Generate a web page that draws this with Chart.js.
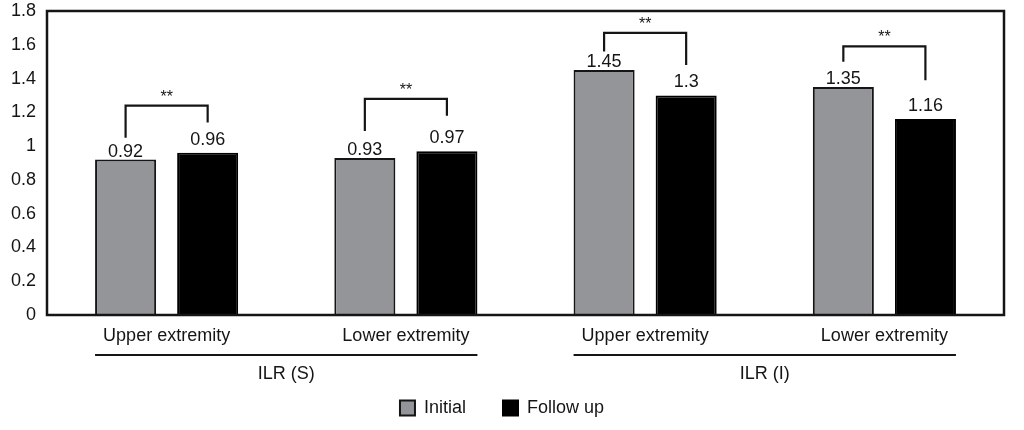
<!DOCTYPE html>
<html>
<head>
<meta charset="utf-8">
<title>ILR initial vs follow up</title>
<script src="https://cdn.jsdelivr.net/npm/chart.js@4.4.1/dist/chart.umd.min.js"></script>
<style>
  html, body { margin: 0; padding: 0; background: #fff; }
  #wrap { width: 1024px; height: 430px; }
</style>
</head>
<body>
<div id="wrap"><canvas id="chart" width="1024" height="430"></canvas></div>
<script>
// ====== DATA ======
const categories   = ['Upper extremity', 'Lower extremity', 'Upper extremity', 'Lower extremity'];
const initialVals  = [0.92, 0.93, 1.45, 1.35];
const followUpVals = [0.96, 0.97, 1.30, 1.16];
const yTicks       = [0, 0.2, 0.4, 0.6, 0.8, 1, 1.2, 1.4, 1.6, 1.8];

// group headings under the category labels (index ranges into categories)
const groupLabels = ['ILR (S)', 'ILR (I)'];
const groupFirst  = [0, 2];
const groupLast   = [1, 3];

// significance brackets, in axis units
const bracketLeftEnd  = [1.05, 1.09, 1.56, 1.50];
const bracketTop      = [1.24, 1.28, 1.67, 1.59];
const bracketRightEnd = [1.14, 1.18, 1.48, 1.39];
const bracketMark     = ['**', '**', '**', '**'];

// ====== STYLE ======
const FONT = '"Liberation Sans", Arial, Helvetica, sans-serif';
const INK  = '#151515';
const GREY = '#939598';

// ====== PLUGIN: frame, value labels, brackets, group headings ======
const extrasPlugin = {
  id: 'extras',
  afterDatasetsDraw(chart) {
    const { ctx, chartArea: a, scales: { y } } = chart;
    const m0 = chart.getDatasetMeta(0).data;
    const m1 = chart.getDatasetMeta(1).data;

    ctx.save();
    // frame around plot
    ctx.strokeStyle = INK;
    ctx.lineWidth = 2.5;
    ctx.strokeRect(a.left, a.top, a.right - a.left, a.bottom - a.top);

    // value labels
    ctx.fillStyle = INK;
    ctx.font = '18px ' + FONT;
    ctx.textAlign = 'center';
    ctx.textBaseline = 'alphabetic';
    m0.forEach((bar, i) => ctx.fillText(String(initialVals[i]), bar.x, bar.y - 3));
    m1.forEach((bar, i) => ctx.fillText(String(followUpVals[i]), bar.x, bar.y - 8));

    // brackets
    ctx.lineWidth = 2.2;
    for (let i = 0; i < categories.length; i++) {
      const xl = m0[i].x, xr = m1[i].x;
      const yt = y.getPixelForValue(bracketTop[i]);
      ctx.beginPath();
      ctx.moveTo(xl, y.getPixelForValue(bracketLeftEnd[i]));
      ctx.lineTo(xl, yt);
      ctx.lineTo(xr, yt);
      ctx.lineTo(xr, y.getPixelForValue(bracketRightEnd[i]));
      ctx.stroke();
      ctx.font = '16px ' + FONT;
      ctx.fillText(bracketMark[i], (xl + xr) / 2, yt - 4);
    }

    // group headings
    ctx.font = '18px ' + FONT;
    ctx.textBaseline = 'middle';
    groupLabels.forEach((lab, g) => {
      const first = m0[groupFirst[g]], last = m1[groupLast[g]];
      const x1 = first.x - first.width / 2;
      const x2 = last.x + last.width / 2;
      const ly = a.bottom + 40;
      ctx.beginPath();
      ctx.moveTo(x1, ly);
      ctx.lineTo(x2, ly);
      ctx.stroke();
      ctx.fillText(lab, (x1 + x2) / 2, a.bottom + 59);
    });
    ctx.restore();
  }
};

// ====== CHART ======
new Chart(document.getElementById('chart'), {
  type: 'bar',
  data: {
    labels: categories,
    datasets: [
      {
        label: 'Initial',
        data: initialVals,
        backgroundColor: GREY,
        borderColor: INK,
        borderWidth: 2,
        categoryPercentage: 0.686,
        barPercentage: 0.744
      },
      {
        label: 'Follow up',
        data: followUpVals,
        backgroundColor: '#000',
        borderColor: '#000',
        borderWidth: 2,
        categoryPercentage: 0.686,
        barPercentage: 0.744
      }
    ]
  },
  options: {
    responsive: false,
    animation: false,
    devicePixelRatio: 1,
    layout: { padding: { top: 11, right: 20, bottom: 3, left: 0 } },
    plugins: {
      tooltip: { enabled: false },
      legend: {
        position: 'bottom',
        labels: {
          color: INK,
          font: { family: FONT, size: 18 },
          boxWidth: 15,
          boxHeight: 15,
          padding: 37
        }
      }
    },
    scales: {
      x: {
        grid: { display: false, drawTicks: false },
        border: { display: false },
        ticks: { color: INK, font: { family: FONT, size: 18 }, padding: 10, maxRotation: 0, autoSkip: false },
        afterFit: (s) => { s.height = 47; }
      },
      y: {
        min: 0,
        max: 1.8,
        grid: { display: false, drawTicks: false },
        border: { display: false },
        afterBuildTicks: (s) => { s.ticks = yTicks.map(v => ({ value: v })); },
        ticks: { color: INK, font: { family: FONT, size: 18 }, padding: 11, callback: (v) => String(v) },
        afterFit: (s) => { s.width = 47; s.paddingTop = 0; s.paddingBottom = 0; }
      }
    }
  },
  plugins: [extrasPlugin]
});
</script>
</body>
</html>
